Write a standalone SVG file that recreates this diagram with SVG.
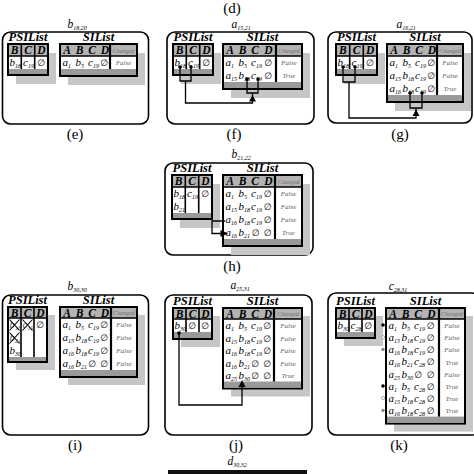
<svg xmlns="http://www.w3.org/2000/svg" width="474" height="474" viewBox="0 0 474 474">
<style>
text{font-family:"Liberation Serif","Times New Roman",serif}
.fr{fill:none;stroke:#000;stroke-width:1.6}
.sh{fill:#c6c6c6}
.tb{fill:#fff;stroke:#000;stroke-width:2}
.hd{fill:#b3b3b3}
.bd{fill:#9a9a9a}
.ln{fill:none;stroke:#000;stroke-width:1.6}
.dv{fill:none;stroke:#000;stroke-width:2.2}
.cn{fill:none;stroke:#000;stroke-width:1.3}
.x{fill:none;stroke:#000;stroke-width:1.1}
.ti{font-size:12.5px;font-weight:bold;font-style:italic;text-anchor:middle}
.h{font-size:11.5px;font-weight:bold;font-style:italic;text-anchor:middle}
.c{font-size:11px;font-style:italic}
.s{font-size:6px}
.e{font-family:"DejaVu Sans",sans-serif;font-size:9px;text-anchor:middle;fill:#000}
.cg{font-size:6px;font-style:italic;fill:#707070;text-anchor:middle}
.tf{font-size:7px;font-style:italic;fill:#606060;text-anchor:middle}
.lb{font-size:11.5px;font-style:italic;text-anchor:middle}
.cp{font-size:15px;text-anchor:middle}
</style>
<text class="cp" x="232" y="13">(d)</text>

<!-- panel e -->
<g id="panel-e">
<rect class="fr" x="2.5" y="32" width="146" height="92" rx="8"/>
<text class="lb" x="77" y="28">b<tspan class="s" dy="2">18,20</tspan></text>
<text class="cp" x="75" y="139">(e)</text>
<g transform="translate(8,44)">
<rect class="sh" x="8" y="9" width="40" height="31"/>
<rect class="tb" width="40" height="31"/>
<rect class="hd" x="1" y="1" width="38" height="11"/>
<rect class="bd" x="1" y="25" width="38" height="5"/>
<path class="ln" d="M0 12H40M13.3 0V25M26.7 0V25"/>
<text class="ti" x="20" y="-3">PSIList</text>
<text class="h" x="6.7" y="10">B</text><text class="h" x="20" y="10">C</text><text class="h" x="33.3" y="10">D</text>
<text class="c" x="1.5" y="22">b<tspan class="s" dy="2">18</tspan></text>
<text class="c" x="15" y="22">c<tspan class="s" dy="2">19</tspan></text>
<text class="e" x="33.3" y="22">∅</text>
</g>
<g transform="translate(60,44)">
<rect class="sh" x="8" y="9" width="77" height="32"/>
<rect class="tb" width="77" height="32"/>
<rect class="hd" x="1" y="1" width="75" height="11"/>
<rect class="bd" x="1" y="25" width="75" height="6"/>
<path class="ln" d="M0 12H77"/><path class="dv" d="M50 0V25"/>
<text class="ti" x="38.5" y="-3">SIList</text>
<text class="h" x="7" y="10">A</text><text class="h" x="19.5" y="10">B</text><text class="h" x="32" y="10">C</text><text class="h" x="45" y="10">D</text>
<text class="cg" x="63.5" y="8.5">Changed</text>
<text class="c" x="2.5" y="22">a<tspan class="s" dy="2">1</tspan></text><text class="c" x="15.5" y="22">b<tspan class="s" dy="2">5</tspan></text><text class="c" x="28" y="22">c<tspan class="s" dy="2">19</tspan></text><text class="e" x="44.5" y="22">∅</text><text class="tf" x="63.5" y="21">False</text>
</g>
</g>

<!-- panel f -->
<g id="panel-f">
<rect class="fr" x="167" y="32" width="147" height="92" rx="8"/>
<text class="lb" x="241" y="28">a<tspan class="s" dy="2">15,21</tspan></text>
<text class="cp" x="234" y="139">(f)</text>
<g transform="translate(173,44)">
<rect class="sh" x="8" y="9" width="40" height="31"/>
<rect class="tb" width="40" height="31"/>
<rect class="hd" x="1" y="1" width="38" height="11"/>
<rect class="bd" x="1" y="25" width="38" height="5"/>
<path class="ln" d="M0 12H40M13.3 0V25M26.7 0V25"/>
<text class="ti" x="20" y="-3">PSIList</text>
<text class="h" x="6.7" y="10">B</text><text class="h" x="20" y="10">C</text><text class="h" x="33.3" y="10">D</text>
<text class="c" x="1.5" y="22">b<tspan class="s" dy="2">18</tspan></text>
<text class="c" x="15" y="22">c<tspan class="s" dy="2">19</tspan></text>
<text class="e" x="33.3" y="22">∅</text>
</g>
<g transform="translate(223,44)">
<rect class="sh" x="8" y="9" width="79" height="45"/>
<rect class="tb" width="79" height="45"/>
<rect class="hd" x="1" y="1" width="77" height="11"/>
<rect class="bd" x="1" y="38" width="77" height="6"/>
<path class="ln" d="M0 12H79"/><path class="dv" d="M53 0V38"/>
<text class="ti" x="39.5" y="-3">SIList</text>
<text class="h" x="7" y="10">A</text><text class="h" x="19.5" y="10">B</text><text class="h" x="32" y="10">C</text><text class="h" x="45.5" y="10">D</text>
<text class="cg" x="66" y="8.5">Changed</text>
<text class="c" x="2.5" y="22">a<tspan class="s" dy="2">1</tspan></text><text class="c" x="15.5" y="22">b<tspan class="s" dy="2">5</tspan></text><text class="c" x="28" y="22">c<tspan class="s" dy="2">19</tspan></text><text class="e" x="45.5" y="22">∅</text><text class="tf" x="66" y="21">False</text>
<text class="c" x="2.5" y="35">a<tspan class="s" dy="2">15</tspan></text><text class="c" x="15.5" y="35">b<tspan class="s" dy="2">18</tspan></text><text class="c" x="28" y="35">c<tspan class="s" dy="2">19</tspan></text><text class="e" x="45.5" y="35">∅</text><text class="tf" x="66" y="34">True</text>
</g>
</g>

<!-- panel g -->
<g id="panel-g">
<rect class="fr" x="328" y="32" width="144" height="91" rx="8"/>
<text class="lb" x="406" y="28">a<tspan class="s" dy="2">16,21</tspan></text>
<text class="cp" x="400" y="139">(g)</text>
<g transform="translate(336,44)">
<rect class="sh" x="8" y="9" width="41" height="31"/>
<rect class="tb" width="41" height="31"/>
<rect class="hd" x="1" y="1" width="39" height="11"/>
<rect class="bd" x="1" y="25" width="39" height="5"/>
<path class="ln" d="M0 12H41M13.7 0V25M27.3 0V25"/>
<text class="ti" x="20.5" y="-3">PSIList</text>
<text class="h" x="6.8" y="10">B</text><text class="h" x="20.5" y="10">C</text><text class="h" x="34.2" y="10">D</text>
<text class="c" x="1.5" y="22">b<tspan class="s" dy="2">18</tspan></text>
<text class="c" x="15.5" y="22">c<tspan class="s" dy="2">19</tspan></text>
<text class="e" x="34.2" y="22">∅</text>
</g>
<g transform="translate(387,44)">
<rect class="sh" x="8" y="9" width="76" height="58"/>
<rect class="tb" width="76" height="58"/>
<rect class="hd" x="1" y="1" width="74" height="11"/>
<rect class="bd" x="1" y="51" width="74" height="6"/>
<path class="ln" d="M0 12H76"/><path class="dv" d="M50 0V51"/>
<text class="ti" x="38" y="-3">SIList</text>
<text class="h" x="7" y="10">A</text><text class="h" x="19.5" y="10">B</text><text class="h" x="32" y="10">C</text><text class="h" x="45" y="10">D</text>
<text class="cg" x="63" y="8.5">Changed</text>
<text class="c" x="2.5" y="22">a<tspan class="s" dy="2">1</tspan></text><text class="c" x="15.5" y="22">b<tspan class="s" dy="2">5</tspan></text><text class="c" x="28" y="22">c<tspan class="s" dy="2">19</tspan></text><text class="e" x="44.5" y="22">∅</text><text class="tf" x="63" y="21">False</text>
<text class="c" x="2.5" y="35">a<tspan class="s" dy="2">15</tspan></text><text class="c" x="15.5" y="35">b<tspan class="s" dy="2">18</tspan></text><text class="c" x="28" y="35">c<tspan class="s" dy="2">19</tspan></text><text class="e" x="44.5" y="35">∅</text><text class="tf" x="63" y="34">False</text>
<text class="c" x="2.5" y="48">a<tspan class="s" dy="2">16</tspan></text><text class="c" x="15.5" y="48">b<tspan class="s" dy="2">18</tspan></text><text class="c" x="28" y="48">c<tspan class="s" dy="2">19</tspan></text><text class="e" x="44.5" y="48">∅</text><text class="tf" x="63" y="47">True</text>
</g>
</g>

<!-- panel h -->
<g id="panel-h">
<rect class="fr" x="165" y="163" width="148" height="92" rx="8"/>
<text class="lb" x="241" y="158">b<tspan class="s" dy="2">21,22</tspan></text>
<text class="cp" x="232" y="271">(h)</text>
<g transform="translate(172,175)">
<rect class="sh" x="8" y="9" width="40" height="44"/>
<rect class="tb" width="40" height="44"/>
<rect class="hd" x="1" y="1" width="38" height="11"/>
<rect class="bd" x="1" y="38" width="38" height="5"/>
<path class="ln" d="M0 12H40M13.3 0V38M26.7 0V38"/>
<text class="ti" x="20" y="-3">PSIList</text>
<text class="h" x="6.7" y="10">B</text><text class="h" x="20" y="10">C</text><text class="h" x="33.3" y="10">D</text>
<text class="c" x="1.5" y="22">b<tspan class="s" dy="2">18</tspan></text>
<text class="c" x="15" y="22">c<tspan class="s" dy="2">19</tspan></text>
<text class="e" x="33.3" y="22">∅</text>
<text class="c" x="1.5" y="35">b<tspan class="s" dy="2">21</tspan></text>
</g>
<g transform="translate(223,175)">
<rect class="sh" x="8" y="9" width="79" height="71"/>
<rect class="tb" width="79" height="71"/>
<rect class="hd" x="1" y="1" width="77" height="11"/>
<rect class="bd" x="1" y="64" width="77" height="6"/>
<path class="ln" d="M0 12H79"/><path class="dv" d="M52 0V64"/>
<text class="ti" x="39.5" y="-3">SIList</text>
<text class="h" x="7" y="10">A</text><text class="h" x="19.5" y="10">B</text><text class="h" x="32" y="10">C</text><text class="h" x="45.5" y="10">D</text>
<text class="cg" x="65.5" y="8.5">Changed</text>
<text class="c" x="2.5" y="22">a<tspan class="s" dy="2">1</tspan></text><text class="c" x="15.5" y="22">b<tspan class="s" dy="2">5</tspan></text><text class="c" x="28" y="22">c<tspan class="s" dy="2">19</tspan></text><text class="e" x="45" y="22">∅</text><text class="tf" x="65.5" y="21">False</text>
<text class="c" x="2.5" y="35">a<tspan class="s" dy="2">15</tspan></text><text class="c" x="15.5" y="35">b<tspan class="s" dy="2">18</tspan></text><text class="c" x="28" y="35">c<tspan class="s" dy="2">19</tspan></text><text class="e" x="45" y="35">∅</text><text class="tf" x="65.5" y="34">False</text>
<text class="c" x="2.5" y="48">a<tspan class="s" dy="2">16</tspan></text><text class="c" x="15.5" y="48">b<tspan class="s" dy="2">18</tspan></text><text class="c" x="28" y="48">c<tspan class="s" dy="2">19</tspan></text><text class="e" x="45" y="48">∅</text><text class="tf" x="65.5" y="47">False</text>
<text class="c" x="2.5" y="61">a<tspan class="s" dy="2">16</tspan></text><text class="c" x="15.5" y="61">b<tspan class="s" dy="2">21</tspan></text><text class="e" x="33" y="61">∅</text><text class="e" x="45" y="61">∅</text><text class="tf" x="65.5" y="60">True</text>
</g>
</g>

<!-- panel i -->
<g id="panel-i">
<rect class="fr" x="2.5" y="295" width="146" height="140" rx="8"/>
<text class="lb" x="77" y="290">b<tspan class="s" dy="2">30,30</tspan></text>
<text class="cp" x="75" y="450">(i)</text>
<g transform="translate(8,307)">
<rect class="sh" x="8" y="8" width="39" height="55"/>
<rect class="tb" width="39" height="55"/>
<rect class="hd" x="1" y="1" width="37" height="10"/>
<rect class="bd" x="1" y="50" width="37" height="4"/>
<path class="ln" d="M0 11H39M13 0V50M26 0V50"/>
<text class="ti" x="19.5" y="-3">PSIList</text>
<text class="h" x="6.5" y="9.5">B</text><text class="h" x="19.5" y="9.5">C</text><text class="h" x="32.5" y="9.5">D</text>
<text class="c" x="1.5" y="21" fill="#555">b<tspan class="s" dy="2">18</tspan></text>
<text class="c" x="14.5" y="21" fill="#555">c<tspan class="s" dy="2">19</tspan></text>
<text class="e" x="32.5" y="21">∅</text>
<text class="c" x="1.5" y="34" fill="#555">b<tspan class="s" dy="2">21</tspan></text>
<text class="c" x="1.5" y="47">b<tspan class="s" dy="2">30</tspan></text>
<path class="x" d="M1.5 12.5L11.5 23.5M11.5 12.5L1.5 23.5M14.5 12.5L24.5 23.5M24.5 12.5L14.5 23.5M1.5 25.5L11.5 36.5M11.5 25.5L1.5 36.5"/>
</g>
<g transform="translate(60,307)">
<rect class="sh" x="8" y="8" width="77" height="70"/>
<rect class="tb" width="77" height="70"/>
<rect class="hd" x="1" y="1" width="75" height="10"/>
<rect class="bd" x="1" y="63" width="75" height="6"/>
<path class="ln" d="M0 11H77"/><path class="dv" d="M51 0V63"/>
<text class="ti" x="38.5" y="-3">SIList</text>
<text class="h" x="7" y="9.5">A</text><text class="h" x="19.5" y="9.5">B</text><text class="h" x="32" y="9.5">C</text><text class="h" x="45" y="9.5">D</text>
<text class="cg" x="64" y="8">Changed</text>
<text class="c" x="2.5" y="21">a<tspan class="s" dy="2">1</tspan></text><text class="c" x="15.5" y="21">b<tspan class="s" dy="2">5</tspan></text><text class="c" x="28" y="21">c<tspan class="s" dy="2">19</tspan></text><text class="e" x="44.5" y="21">∅</text><text class="tf" x="64" y="20">False</text>
<text class="c" x="2.5" y="34">a<tspan class="s" dy="2">15</tspan></text><text class="c" x="15.5" y="34">b<tspan class="s" dy="2">18</tspan></text><text class="c" x="28" y="34">c<tspan class="s" dy="2">19</tspan></text><text class="e" x="44.5" y="34">∅</text><text class="tf" x="64" y="33">False</text>
<text class="c" x="2.5" y="47">a<tspan class="s" dy="2">16</tspan></text><text class="c" x="15.5" y="47">b<tspan class="s" dy="2">18</tspan></text><text class="c" x="28" y="47">c<tspan class="s" dy="2">19</tspan></text><text class="e" x="44.5" y="47">∅</text><text class="tf" x="64" y="46">False</text>
<text class="c" x="2.5" y="60">a<tspan class="s" dy="2">16</tspan></text><text class="c" x="15.5" y="60">b<tspan class="s" dy="2">21</tspan></text><text class="e" x="32.5" y="60">∅</text><text class="e" x="44.5" y="60">∅</text><text class="tf" x="64" y="59">False</text>
</g>
</g>

<!-- panel j -->
<g id="panel-j">
<rect class="fr" x="165" y="295" width="147" height="140" rx="8"/>
<text class="lb" x="240" y="289">a<tspan class="s" dy="2">25,31</tspan></text>
<text class="cp" x="236" y="450">(j)</text>
<g transform="translate(173,308)">
<rect class="sh" x="8" y="8" width="39" height="31"/>
<rect class="tb" width="39" height="31"/>
<rect class="hd" x="1" y="1" width="37" height="10"/>
<rect class="bd" x="1" y="24" width="37" height="6"/>
<path class="ln" d="M0 11H39M13 0V24M26 0V24"/>
<text class="ti" x="19.5" y="-3">PSIList</text>
<text class="h" x="6.5" y="9.5">B</text><text class="h" x="19.5" y="9.5">C</text><text class="h" x="32.5" y="9.5">D</text>
<text class="c" x="1.5" y="21">b<tspan class="s" dy="2">30</tspan></text>
<text class="e" x="19.5" y="21">∅</text>
<text class="e" x="32.5" y="21">∅</text>
</g>
<g transform="translate(223,308)">
<rect class="sh" x="8" y="8" width="79" height="80.5"/>
<rect class="tb" width="79" height="80.5"/>
<rect class="hd" x="1" y="1" width="77" height="10"/>
<rect class="bd" x="1" y="73.5" width="77" height="6"/>
<path class="ln" d="M0 11H79"/><path class="dv" d="M51 0V73.5"/>
<text class="ti" x="39.5" y="-3">SIList</text>
<text class="h" x="7" y="9.5">A</text><text class="h" x="19.5" y="9.5">B</text><text class="h" x="32" y="9.5">C</text><text class="h" x="45" y="9.5">D</text>
<text class="cg" x="65" y="8">Changed</text>
<text class="c" x="2.5" y="21">a<tspan class="s" dy="2">1</tspan></text><text class="c" x="15.5" y="21">b<tspan class="s" dy="2">5</tspan></text><text class="c" x="28" y="21">c<tspan class="s" dy="2">19</tspan></text><text class="e" x="44.5" y="21">∅</text><text class="tf" x="65" y="20">False</text>
<text class="c" x="2.5" y="33.5">a<tspan class="s" dy="2">15</tspan></text><text class="c" x="15.5" y="33.5">b<tspan class="s" dy="2">18</tspan></text><text class="c" x="28" y="33.5">c<tspan class="s" dy="2">19</tspan></text><text class="e" x="44.5" y="33.5">∅</text><text class="tf" x="65" y="32.5">False</text>
<text class="c" x="2.5" y="46">a<tspan class="s" dy="2">16</tspan></text><text class="c" x="15.5" y="46">b<tspan class="s" dy="2">18</tspan></text><text class="c" x="28" y="46">c<tspan class="s" dy="2">19</tspan></text><text class="e" x="44.5" y="46">∅</text><text class="tf" x="65" y="45">False</text>
<text class="c" x="2.5" y="58.5">a<tspan class="s" dy="2">16</tspan></text><text class="c" x="15.5" y="58.5">b<tspan class="s" dy="2">21</tspan></text><text class="e" x="32.5" y="58.5">∅</text><text class="e" x="44.5" y="58.5">∅</text><text class="tf" x="65" y="57.5">False</text>
<text class="c" x="2.5" y="71">a<tspan class="s" dy="2">25</tspan></text><text class="c" x="15.5" y="71">b<tspan class="s" dy="2">30</tspan></text><text class="e" x="32.5" y="71">∅</text><text class="e" x="44.5" y="71">∅</text><text class="tf" x="65" y="70">True</text>
</g>
</g>

<!-- panel k -->
<g id="panel-k">
<rect class="fr" x="328" y="293" width="152" height="142" rx="8"/>
<text class="lb" x="398" y="290">c<tspan class="s" dy="2">28,31</tspan></text>
<text class="cp" x="399" y="450">(k)</text>
<g transform="translate(336,308)">
<rect class="sh" x="8" y="8" width="39" height="30"/>
<rect class="tb" width="39" height="30"/>
<rect class="hd" x="1" y="1" width="37" height="10"/>
<rect class="bd" x="1" y="24" width="37" height="5"/>
<path class="ln" d="M0 11H39M13 0V24M26 0V24"/>
<text class="ti" x="19.5" y="-3">PSIList</text>
<text class="h" x="6.5" y="9.5">B</text><text class="h" x="19.5" y="9.5">C</text><text class="h" x="32.5" y="9.5">D</text>
<text class="c" x="1.5" y="21">b<tspan class="s" dy="2">30</tspan></text>
<text class="c" x="14.5" y="21">c<tspan class="s" dy="2">28</tspan></text>
<text class="e" x="32.5" y="21">∅</text>
</g>
<g transform="translate(386,308)">
<rect class="sh" x="8" y="8" width="79" height="115.6"/>
<rect class="tb" width="79" height="115.6"/>
<rect class="hd" x="1" y="1" width="77" height="10"/>
<rect class="bd" x="1" y="108.6" width="77" height="6"/>
<path class="ln" d="M0 11H79"/><path class="dv" d="M53 0V108.6"/>
<text class="ti" x="39.5" y="-3">SIList</text>
<text class="h" x="7" y="9.5">A</text><text class="h" x="19.5" y="9.5">B</text><text class="h" x="32" y="9.5">C</text><text class="h" x="45.5" y="9.5">D</text>
<text class="cg" x="66" y="8">Changed</text>
<text class="c" x="2.5" y="20.8">a<tspan class="s" dy="2">1</tspan></text><text class="c" x="15.5" y="20.8">b<tspan class="s" dy="2">5</tspan></text><text class="c" x="28" y="20.8">c<tspan class="s" dy="2">19</tspan></text><text class="e" x="45" y="20.8">∅</text><text class="tf" x="66" y="20">False</text>
<text class="c" x="2.5" y="33">a<tspan class="s" dy="2">15</tspan></text><text class="c" x="15.5" y="33">b<tspan class="s" dy="2">18</tspan></text><text class="c" x="28" y="33">c<tspan class="s" dy="2">19</tspan></text><text class="e" x="45" y="33">∅</text><text class="tf" x="66" y="32.2">False</text>
<text class="c" x="2.5" y="45.2">a<tspan class="s" dy="2">16</tspan></text><text class="c" x="15.5" y="45.2">b<tspan class="s" dy="2">18</tspan></text><text class="c" x="28" y="45.2">c<tspan class="s" dy="2">19</tspan></text><text class="e" x="45" y="45.2">∅</text><text class="tf" x="66" y="44.4">False</text>
<text class="c" x="2.5" y="57.4">a<tspan class="s" dy="2">16</tspan></text><text class="c" x="15.5" y="57.4">b<tspan class="s" dy="2">21</tspan></text><text class="c" x="28" y="57.4">c<tspan class="s" dy="2">28</tspan></text><text class="e" x="45" y="57.4">∅</text><text class="tf" x="66" y="56.6">True</text>
<text class="c" x="2.5" y="69.6">a<tspan class="s" dy="2">25</tspan></text><text class="c" x="15.5" y="69.6">b<tspan class="s" dy="2">30</tspan></text><text class="e" x="32.5" y="69.6">∅</text><text class="e" x="45" y="69.6">∅</text><text class="tf" x="66" y="68.8">False</text>
<text class="c" x="2.5" y="81.8">a<tspan class="s" dy="2">1</tspan></text><text class="c" x="15.5" y="81.8">b<tspan class="s" dy="2">5</tspan></text><text class="c" x="28" y="81.8">c<tspan class="s" dy="2">28</tspan></text><text class="e" x="45" y="81.8">∅</text><text class="tf" x="66" y="81">True</text>
<text class="c" x="2.5" y="94">a<tspan class="s" dy="2">15</tspan></text><text class="c" x="15.5" y="94">b<tspan class="s" dy="2">18</tspan></text><text class="c" x="28" y="94">c<tspan class="s" dy="2">28</tspan></text><text class="e" x="45" y="94">∅</text><text class="tf" x="66" y="93.2">True</text>
<text class="c" x="2.5" y="106.2">a<tspan class="s" dy="2">16</tspan></text><text class="c" x="15.5" y="106.2">b<tspan class="s" dy="2">18</tspan></text><text class="c" x="28" y="106.2">c<tspan class="s" dy="2">28</tspan></text><text class="e" x="45" y="106.2">∅</text><text class="tf" x="66" y="105.4">True</text>
</g>
</g>

<g id="panel-d-next">
<text class="lb" x="237" y="465">d<tspan class="s" dy="2">30,32</tspan></text>
<rect x="168" y="470" width="139" height="4" fill="#111"/>
</g>

<!-- connectors -->
<g id="connectors">
<path class="cn" d="M180 67V81H191V67M185.5 81V103H252.5V93M247 79V93H258V79"/>
<polygon points="252.5,95 249,101.5 256,101.5"/>
<circle cx="180" cy="67" r="1.8"/><circle cx="191" cy="67" r="1.8"/>
<circle cx="247" cy="79" r="1.8"/><circle cx="258" cy="79" r="1.8"/>

<path class="cn" d="M343 67V82H355V67M349 82V118H416V108M410 93V108H422V93"/>
<polygon points="416,109.5 412.5,116 419.5,116"/>
<circle cx="343" cy="67" r="1.8"/><circle cx="355" cy="67" r="1.8"/>
<circle cx="410" cy="93" r="1.8"/><circle cx="422" cy="93" r="1.8"/>

<path class="cn" d="M225 221H212V233.5H221"/>
<polygon points="228,233.5 220.5,230 220.5,237"/>

<path class="cn" d="M179 333V405H242V387"/>
<polygon points="242,380 238.5,387 245.5,387"/>
<circle cx="179" cy="333" r="1.8"/>

<circle cx="383" cy="325" r="1.8"/>
<circle cx="383" cy="337.2" r="1.6" fill="#fff" stroke="#999" stroke-width="0.8"/>
<circle cx="383" cy="349.4" r="1.7" fill="#888"/>
<circle cx="383" cy="386" r="1.8"/>
<circle cx="383" cy="398.2" r="1.6" fill="#fff" stroke="#999" stroke-width="0.8"/>
<circle cx="383" cy="410.4" r="1.7" fill="#888"/>
</g>
</svg>
